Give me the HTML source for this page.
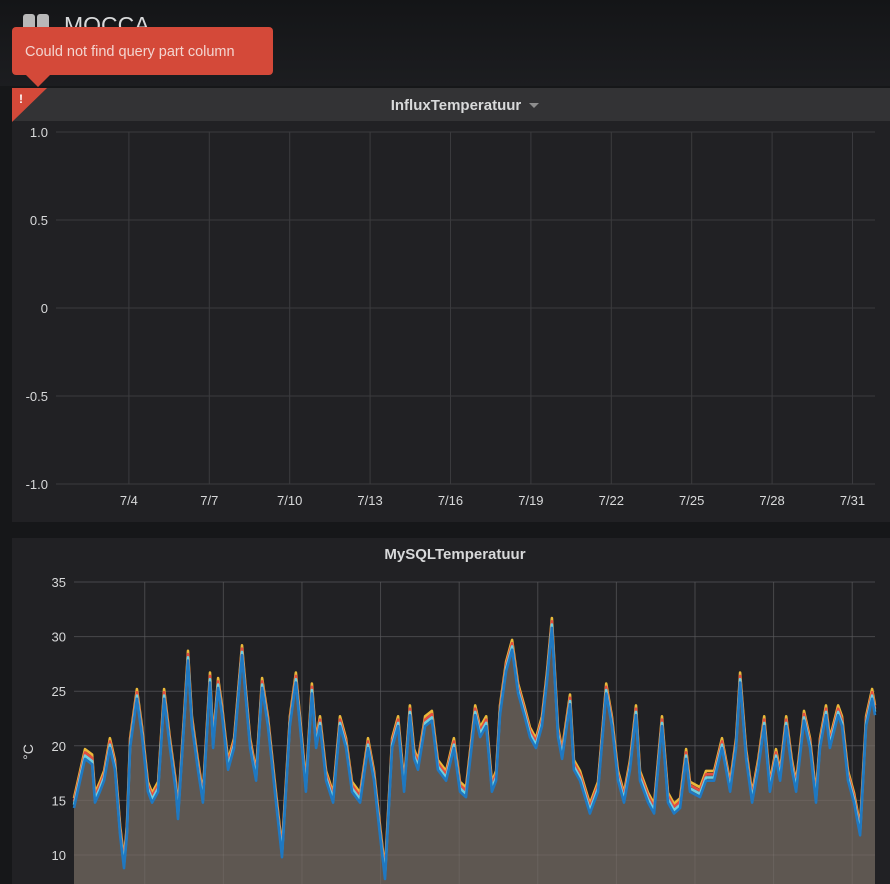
<!DOCTYPE html>
<html><head><meta charset="utf-8">
<style>
html,body{margin:0;padding:0;background:#161719;width:890px;height:884px;overflow:hidden;font-family:"Liberation Sans",sans-serif;}
svg{display:block}
</style></head>
<body>
<svg id="svg" width="890" height="884" xmlns="http://www.w3.org/2000/svg">
<defs><linearGradient id="hdr" x1="0" y1="0" x2="0" y2="1"><stop offset="0" stop-color="#141517"/><stop offset="1" stop-color="#1c1d20"/></linearGradient></defs>
<rect x="0" y="0" width="890" height="884" fill="#161719"/>
<rect x="0" y="0" width="890" height="86" fill="url(#hdr)"/>
<g><rect x="23" y="14" width="12" height="16" rx="3" fill="#b8b8b8"/><rect x="37" y="14" width="12" height="16" rx="3" fill="#b8b8b8"/></g>
<text x="64" y="33" font-size="23" fill="#d8d9da">MOCCA</text>

<g>
<rect x="12" y="88" width="878" height="434" fill="#212124"/>
<rect x="12" y="88" width="878" height="33" fill="#333335"/>
<text x="456" y="110" font-size="15" font-weight="bold" fill="#d8d9da" text-anchor="middle">InfluxTemperatuur</text>
<path d="M529 103 L539 103 L534 108 Z" fill="#8e8e8e"/>
<path d="M12 88 L47 88 L12 122 Z" fill="#d44939"/>
<text x="19" y="103" font-size="12" font-weight="bold" fill="#fff">!</text>
<g id="g1"></g>
</g>

<g>
<rect x="12" y="27" width="261" height="48" rx="4" fill="#d44939"/>
<path d="M26 75 L50 75 L38 87 Z" fill="#d44939"/>
<text x="25" y="56" font-size="14.5" fill="#f3d5d0">Could not find query part column</text>
</g>

<g>
<rect x="12" y="538" width="878" height="346" fill="#212124"/>
<text x="455" y="559" font-size="15" font-weight="bold" fill="#d8d9da" text-anchor="middle">MySQLTemperatuur</text>
<text transform="translate(33,752) rotate(-90)" font-size="14" fill="#d8d9da" text-anchor="middle">°C</text>
<g id="g2"></g>
</g>
</svg>
<script>
// ---- Influx chart data
const influxYTicks = [1.0, 0.5, 0, -0.5, -1.0];
const influxYLabels = ["1.0", "0.5", "0", "-0.5", "-1.0"];
const xTickDays = [4, 7, 10, 13, 16, 19, 22, 25, 28, 31];
const xTickLabels = ["7/4","7/7","7/10","7/13","7/16","7/19","7/22","7/25","7/28","7/31"];
// ---- MySQL chart data
const mysqlYTicks = [35, 30, 25, 20, 15, 10];
const times = [1.30,1.72,1.99,2.10,2.29,2.45,2.67,2.86,3.06,3.21,3.32,3.44,3.70,3.90,4.12,4.28,4.51,4.74,4.96,5.19,5.27,5.50,5.65,5.80,6.03,6.22,6.49,6.61,6.80,6.95,7.18,7.41,7.71,8.02,8.25,8.48,8.70,9.01,9.24,9.54,9.77,10.00,10.15,10.38,10.54,10.69,10.92,11.19,11.45,11.68,11.91,12.22,12.52,12.75,12.98,13.17,13.44,13.67,13.90,14.12,14.28,14.43,14.70,14.96,15.19,15.50,15.80,16.03,16.26,16.61,16.80,17.03,17.25,17.41,17.56,17.79,18.02,18.25,18.48,18.70,18.93,19.16,19.35,19.54,19.77,19.93,20.23,20.38,20.61,20.99,21.30,21.61,21.83,22.06,22.29,22.52,22.75,22.90,23.21,23.44,23.74,23.97,24.20,24.43,24.66,24.81,25.19,25.42,25.73,26.03,26.34,26.57,26.72,26.95,27.18,27.41,27.64,27.86,28.09,28.25,28.48,28.70,28.86,29.16,29.39,29.62,29.77,30.00,30.15,30.46,30.61,30.84,31.07,31.30,31.53,31.76,31.87];
const temps = [14.5,19,18.5,15,16,17,20,18,12,9,12,20,24.5,21,16,15,16,24.5,20,16,13.5,22,28,22,18,15,26,20,25.5,23,18,20,28.5,20,17,25.5,22,15,10,22,26,20,16,25,20,22,17,15,22,20,16,15,20,17,12,8,20,22,16,23,19,18,22,22.5,18,17,20,16,15.5,23,21,22,16,17,23,27,29,25,23,21,20,22,26,31,21,19,24,18,17,14,16,25,22,17,15,18,23,17,15,14,22,15,14,14.5,19,16,15.5,17,17,20,16,20,26,19,15,18,22,16,19,17,22,18,16,22.5,20,15,20,23,20,23,22,17,15,12,22,24.5,23];
const sensorOffsets = [0.7, 0.4, 0.1, -0.2];
const sensorColors = ["#eab839","#e24d42","#6ed0e0","#1f78c1"];

const NS="http://www.w3.org/2000/svg";
function mk(tag, attrs, parent){const e=document.createElementNS(NS,tag);for(const k in attrs)e.setAttribute(k,attrs[k]);parent.appendChild(e);return e;}

// Influx chart
const g1=document.getElementById('g1');
const i1={l:56,r:875,t:132,b:484,d0:1.28,d1:31.84};
const x1=d=>i1.l+(d-i1.d0)/(i1.d1-i1.d0)*(i1.r-i1.l);
const y1=v=>i1.t+(1-v)/2*(i1.b-i1.t);
influxYTicks.forEach((v,i)=>{
  const ln=mk('line',{x1:i1.l,x2:i1.r,y1:y1(v),y2:y1(v),stroke:'#3b3b3e','stroke-width':1},g1);
  
  
  const t=mk('text',{x:48,y:y1(v)+5,'font-size':13,fill:'#d8d9da','text-anchor':'end'},g1);
  t.textContent=influxYLabels[i];
  
  
});
xTickDays.forEach((d,i)=>{
  const ln=mk('line',{x1:x1(d),x2:x1(d),y1:i1.t,y2:i1.b,stroke:'#3b3b3e','stroke-width':1},g1);
  
  
  const t=mk('text',{x:x1(d),y:505,'font-size':13,fill:'#d8d9da','text-anchor':'middle'},g1);
  t.textContent=xTickLabels[i];
  
  
});

// MySQL chart
const g2=document.getElementById('g2');
const i2={l:74,r:875,d0:1.30,d1:31.87};
const x2=d=>i2.l+(d-i2.d0)/(i2.d1-i2.d0)*(i2.r-i2.l);
const y2=v=>582+(35-v)*10.92;
mysqlYTicks.forEach(v=>{
  const ln=mk('line',{x1:i2.l,x2:i2.r,y1:y2(v),y2:y2(v),stroke:'#3b3b3e','stroke-width':1},g2);
  
  
  const t=mk('text',{x:66,y:y2(v)+5,'font-size':13,fill:'#d8d9da','text-anchor':'end'},g2);
  t.textContent=String(v);
  
  
});
xTickDays.forEach(d=>{
  const ln=mk('line',{x1:x2(d),x2:x2(d),y1:582,y2:884,stroke:'#3b3b3e','stroke-width':1},g2);
  
  
});
let ad='M'+x2(times[0])+' 884';
times.forEach((t,i)=>{ad+=' L'+x2(t).toFixed(1)+' '+y2(temps[i]+0.3).toFixed(1);});
ad+=' L'+x2(times[times.length-1])+' 884 Z';
const area=mk('path',{d:ad,fill:'#5e5751'},g2);


mysqlYTicks.forEach(v=>{mk('line',{x1:i2.l,x2:i2.r,y1:y2(v),y2:y2(v),stroke:'rgba(255,255,255,0.07)'},g2);});
xTickDays.forEach(d=>{mk('line',{x1:x2(d),x2:x2(d),y1:582,y2:884,stroke:'rgba(255,255,255,0.07)'},g2);});
sensorOffsets.forEach((off,s)=>{
  let d='';
  times.forEach((t,i)=>{d+=(i?' L':'M')+x2(t).toFixed(1)+' '+y2(temps[i]+off).toFixed(1);});
  const p=mk('path',{d:d,fill:'none',stroke:sensorColors[s],'stroke-width':2.6,'stroke-linejoin':'round'},g2);
  
  
});
</script>
</body></html>
